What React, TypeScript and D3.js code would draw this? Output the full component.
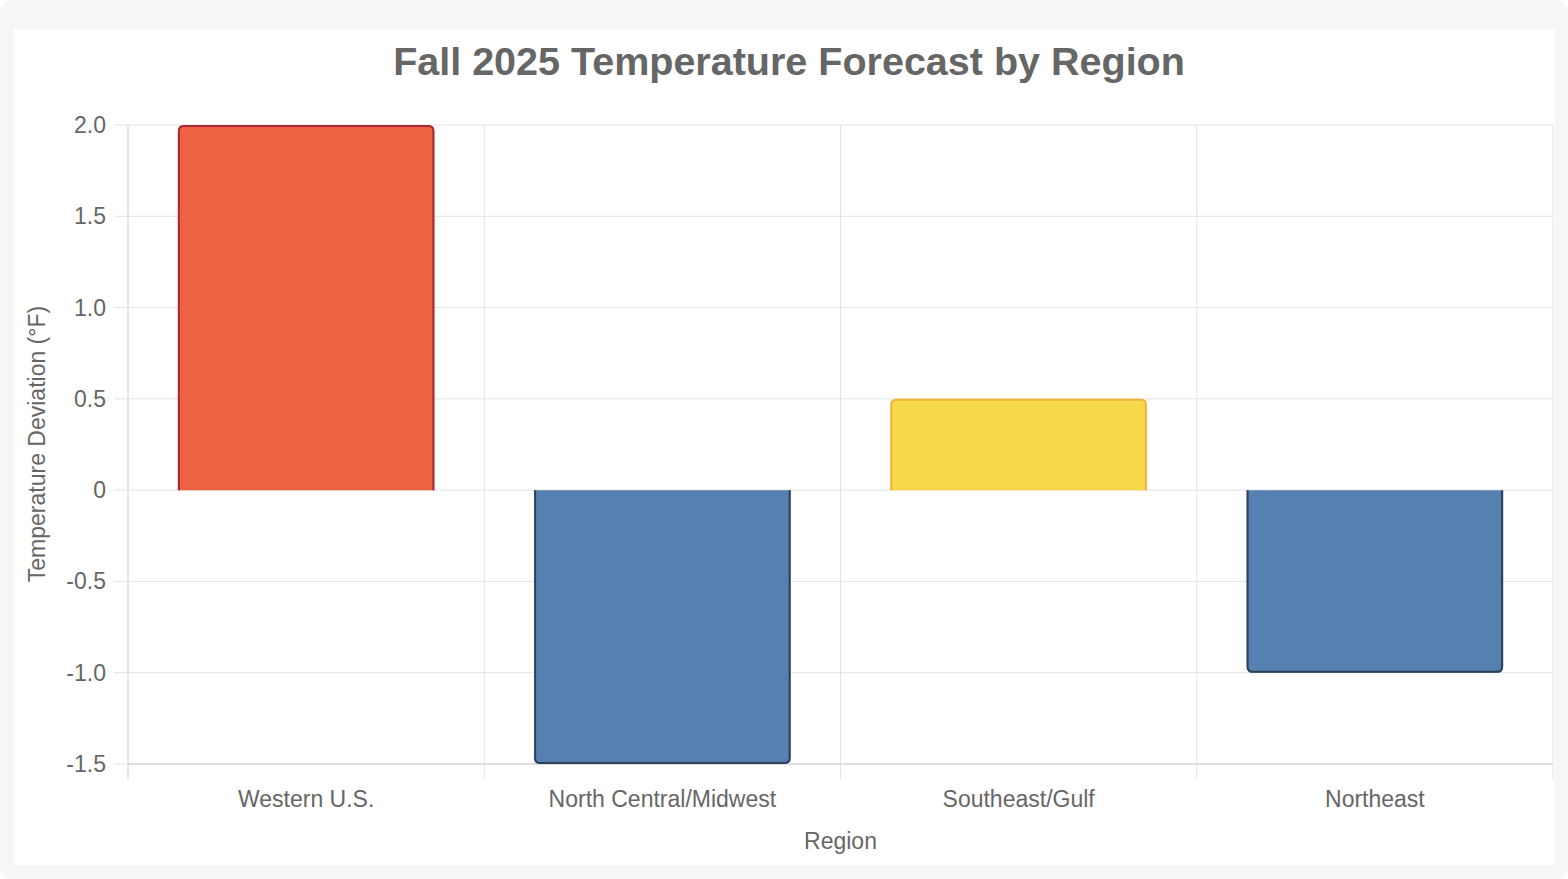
import React from 'react';
import * as d3 from 'd3';

const REGIONS = ['Western U.S.', 'North Central/Midwest', 'Southeast/Gulf', 'Northeast'];
const DEVIATIONS = [2.0, -1.5, 0.5, -1.0];
const FILLS = ['#EB6341', '#5580B0', '#F8D84B', '#5580B0'];
const STROKES = ['#A8283A', '#2C4157', '#EDB33C', '#2C4157'];
const Y_TICKS = [2.0, 1.5, 1.0, 0.5, 0, -0.5, -1.0, -1.5];

const W = 1568;
const H = 879;
const FONT = '"Liberation Sans", Arial, Helvetica, sans-serif';

// path for a bar with rounded corners on the end away from zero
function barPath(x0: number, x1: number, yBase: number, yEnd: number, r: number, closed: boolean) {
  const dir = yEnd < yBase ? 1 : -1; // 1 = grows up
  const p = d3.path();
  p.moveTo(x0, yBase);
  p.lineTo(x0, yEnd + dir * r);
  p.quadraticCurveTo(x0, yEnd, x0 + r, yEnd);
  p.lineTo(x1 - r, yEnd);
  p.quadraticCurveTo(x1, yEnd, x1, yEnd + dir * r);
  p.lineTo(x1, yBase);
  if (closed) p.closePath();
  return p.toString();
}

const fmtTick = (t: number) => (t === 0 ? '0' : t.toFixed(1)); // plain hyphen for negatives

export default function App() {
  const margin = { top: 125, right: 15, bottom: 115, left: 128 };
  const innerW = W - margin.left - margin.right;
  const innerH = H - margin.top - margin.bottom;

  const x = d3.scaleBand<string>().domain(REGIONS).range([0, innerW]).paddingInner(0).paddingOuter(0);
  const y = d3.scaleLinear().domain([-1.5, 2.0]).range([innerH, 0]);
  const barW = x.bandwidth() * 0.72;
  const boundaries = d3.range(REGIONS.length + 1).map(i => i * x.bandwidth());

  return (
    <svg width={W} height={H} style={{ position: 'fixed', left: 0, top: 0, display: 'block' }}>
      <rect x={0} y={0} width={W} height={H} rx={12} fill="#F6F6F6" />
      <rect x={14} y={29} width={1541} height={836} fill="#FFFFFF" />

      <text x={789} y={75} textAnchor="middle" fontFamily={FONT} fontWeight="bold" fontSize={39.5} fill="#666666">
        Fall 2025 Temperature Forecast by Region
      </text>

      <g transform={`translate(${margin.left},${margin.top})`}>
        {/* horizontal grid + ticks */}
        {Y_TICKS.map(t => (
          <g key={t}>
            <line x1={-14} x2={innerW} y1={y(t)} y2={y(t)} stroke="#E3E3E3" strokeWidth={1} />
            <text x={-22} y={y(t)} dy="0.35em" textAnchor="end" fontFamily={FONT} fontSize={23} fill="#666666">
              {fmtTick(t)}
            </text>
          </g>
        ))}
        {/* vertical grid */}
        {boundaries.map((b, i) => (
          <line key={i} x1={b} x2={b} y1={0} y2={innerH + 15} stroke={i === 0 ? '#CFCFCF' : '#E3E3E3'} strokeWidth={1} />
        ))}
        <line x1={0} x2={innerW} y1={innerH} y2={innerH} stroke="#CFCFCF" strokeWidth={1} />

        {/* bars */}
        {REGIONS.map((r, i) => {
          const cx = (x(r) as number) + x.bandwidth() / 2;
          const x0 = cx - barW / 2;
          const x1 = cx + barW / 2;
          const y0 = y(0);
          const y1 = y(DEVIATIONS[i]);
          return (
            <g key={r}>
              <path d={barPath(x0, x1, y0, y1, 6, true)} fill={FILLS[i]} />
              <path d={barPath(x0 + 1, x1 - 1, y0, y1 + (y1 < y0 ? 1 : -1), 5, false)} fill="none" stroke={STROKES[i]} strokeWidth={2} />
            </g>
          );
        })}

        {/* category labels */}
        {REGIONS.map(r => (
          <text key={r} x={(x(r) as number) + x.bandwidth() / 2} y={innerH + 35} dy="0.35em" textAnchor="middle" fontFamily={FONT} fontSize={23} fill="#666666">
            {r}
          </text>
        ))}

        <text x={innerW / 2} y={innerH + 77} dy="0.35em" textAnchor="middle" fontFamily={FONT} fontSize={23} fill="#666666">
          Region
        </text>
        <text transform={`translate(${-91},${444 - margin.top}) rotate(-90)`} dy="0.35em" textAnchor="middle" fontFamily={FONT} fontSize={23} fill="#666666">
          Temperature Deviation (°F)
        </text>
      </g>
    </svg>
  );
}
